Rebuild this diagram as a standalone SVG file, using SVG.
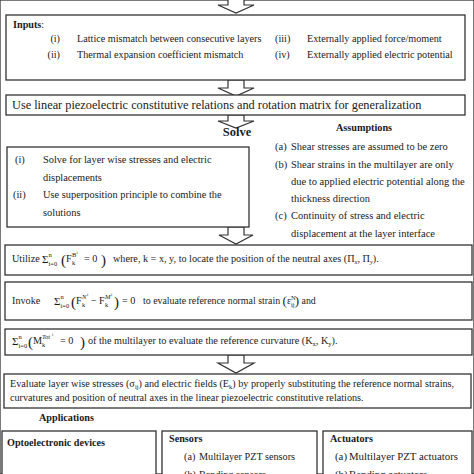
<svg xmlns="http://www.w3.org/2000/svg" width="474" height="474" viewBox="0 0 474 474">
<style>
text{font-family:"Liberation Serif","Times New Roman",serif;font-size:10.2px;fill:#1a1a1a}
.b{font-weight:bold}
.s{font-size:6.5px}
.ss{font-size:4.5px}
.p{font-size:15px;font-weight:lighter}
.sg{font-size:11px}
.i{font-style:italic}
.as{font-size:10.5px}
.sv{font-size:10.4px}
rect{fill:#fff;stroke:#333;stroke-width:1.3}
.arr{fill:#fff;stroke:#333;stroke-width:1.2;stroke-linejoin:miter}
</style>
<rect x="0" y="0" width="474" height="474" fill="#fff" stroke="none"/>
<g id="connectors">
<polygon class="arr" points="228,-3 244,-3 244,5 254,5 236,13 218,5 228,5"/>
<polygon class="arr" points="228,80 244,80 244,88 254,88 236,96 218,88 228,88"/>
<polygon class="arr" points="228,115 244,115 244,121 254,121 236,128 218,121 228,121"/>
<polygon class="arr" points="228,227 244,227 244,235 253,235 236,244 219,235 228,235"/>
<polygon class="arr" points="228,355 244,355 244,363 254,363 236,373 218,363 228,363"/>
</g>
<g id="inputs">
<rect x="6" y="15" width="459" height="65"/>
<text x="13" y="28"><tspan class="b">Inputs</tspan>:</text>
<text x="60" y="42" text-anchor="end">(i)</text>
<text x="77" y="42">Lattice mismatch between consecutive layers</text>
<text x="60" y="58" text-anchor="end">(ii)</text>
<text x="77" y="58">Thermal expansion coefficient mismatch</text>
<text x="275" y="42">(iii)</text>
<text x="307" y="42">Externally applied force/moment</text>
<text x="275" y="58">(iv)</text>
<text x="307" y="58">Externally applied electric potential</text>
</g>
<g id="constitutive">
<rect x="6" y="95" width="459" height="20"/>
<text x="12" y="109" style="font-size:12.3px">Use linear piezoelectric constitutive relations and rotation matrix for generalization</text>
</g>
<g id="solve-label">
<text x="237" y="136" text-anchor="middle" class="b" style="font-size:12.5px">Solve</text>
</g>
<g id="solve">
<rect x="7" y="147" width="242" height="80"/>
<text x="15" y="163" class="sv">(i)</text>
<text x="43" y="163" class="sv">Solve for layer wise stresses and electric</text>
<text x="43" y="181" class="sv">displacements</text>
<text x="13" y="198" class="sv">(ii)</text>
<text x="43" y="198" class="sv">Use superposition principle to combine the</text>
<text x="43" y="216" class="sv">solutions</text>
</g>
<g id="assumptions">
<text x="336" y="131" class="b">Assumptions</text>
<text x="275" y="150" class="as">(a)</text>
<text x="291" y="150" class="as">Shear stresses are assumed to be zero</text>
<text x="275" y="168" class="as">(b)</text>
<text x="291" y="168" class="as">Shear strains in the multilayer are only</text>
<text x="291" y="185" class="as">due to applied electric potential along the</text>
<text x="291" y="202" class="as">thickness direction</text>
<text x="275" y="219" class="as">(c)</text>
<text x="291" y="219" class="as">Continuity of stress and electric</text>
<text x="291" y="237" class="as">displacement at the layer interface</text>
</g>
<g id="neutral-axes">
<rect x="5" y="245" width="467" height="30"/>
<text x="12" y="262">Utilize</text>
<text x="42" y="263" class="sg">Σ</text>
<text x="48.5" y="257" class="s">n</text>
<text x="48.5" y="265.5" class="s">i=0</text>
<text x="61" y="265" class="p">(</text>
<text x="66" y="262">F</text>
<text x="72" y="256.5" class="s">B</text>
<text x="76.5" y="253.5" class="ss">i</text>
<text x="72" y="265" class="s">k</text>
<text x="84" y="262">= 0</text>
<text x="101" y="265" class="p">)</text>
<text x="113" y="262">where, k = x, y, to locate the position of the neutral axes (Π<tspan class="s i" dy="2">x</tspan><tspan dy="-2">, Π</tspan><tspan class="s i" dy="2">y</tspan><tspan dy="-2">).</tspan></text>
</g>
<g id="normal-strain">
<rect x="5" y="282" width="467" height="38"/>
<text x="12" y="304">Invoke</text>
<text x="54" y="305" class="sg">Σ</text>
<text x="60.5" y="299" class="s">n</text>
<text x="60.5" y="307.5" class="s">i=0</text>
<text x="71" y="307" class="p">(</text>
<text x="76" y="304">F</text>
<text x="82" y="298.5" class="s i">N</text>
<text x="87" y="295.5" class="ss">i</text>
<text x="82" y="307" class="s">k</text>
<text x="91" y="304">−</text>
<text x="99" y="304">F</text>
<text x="105" y="298.5" class="s i">M</text>
<text x="111" y="295.5" class="ss">i</text>
<text x="105" y="307" class="s">k</text>
<text x="114" y="307" class="p">)</text>
<text x="122" y="304">= 0</text>
<text x="143" y="304" style="font-size:9.9px">to evaluate reference normal strain <tspan font-size="13" dy="1">(</tspan><tspan dy="-1">ε</tspan><tspan class="s" dy="-4">N</tspan><tspan class="s" dx="-4.7" dy="7">ij</tspan><tspan font-size="13" dy="-2">)</tspan><tspan dy="-1"> and</tspan></text>
</g>
<g id="curvature">
<rect x="5" y="329" width="467" height="26"/>
<text x="12" y="345" class="sg">Σ</text>
<text x="18.5" y="339" class="s">n</text>
<text x="18.5" y="347.5" class="s">i=0</text>
<text x="28" y="347" class="p">(</text>
<text x="33" y="344">M</text>
<text x="42" y="338.5" class="s i">Tot</text>
<text x="52" y="335.5" class="ss">i</text>
<text x="42" y="347" class="s">k</text>
<text x="60" y="344">= 0</text>
<text x="80" y="347" class="p">)</text>
<text x="88" y="344">of the multilayer to evaluate the reference curvature (K<tspan class="s" dy="2">x</tspan><tspan dy="-2">, K</tspan><tspan class="s" dy="2">y</tspan><tspan dy="-2">).</tspan></text>
</g>
<g id="evaluate">
<rect x="4" y="374" width="467" height="34"/>
<text x="10" y="387">Evaluate layer wise stresses (σ<tspan class="s" dy="2">ij</tspan><tspan dy="-2">) and electric fields (E</tspan><tspan class="s" dy="2">k</tspan><tspan dy="-2">) by properly substituting the reference normal strains,</tspan></text>
<text x="10" y="401">curvatures and position of neutral axes in the linear piezoelectric constitutive relations.</text>
</g>
<g id="applications-label">
<text x="39" y="421" class="b">Applications</text>
</g>
<g id="optoelectronic">
<rect x="2" y="431" width="154" height="60"/>
<text x="7" y="446" class="b">Optoelectronic devices</text>
</g>
<g id="sensors">
<rect x="162" y="431" width="155" height="60"/>
<text x="169" y="442" class="b">Sensors</text>
<text x="184" y="460">(a)</text>
<text x="199" y="460">Multilayer PZT sensors</text>
<text x="184" y="478">(b)</text>
<text x="199" y="478">Bending sensors</text>
</g>
<g id="actuators">
<rect x="323" y="431" width="149" height="60"/>
<text x="330" y="442" class="b">Actuators</text>
<text x="335" y="460" style="font-size:10.8px">(a)</text>
<text x="349" y="460" style="font-size:10.8px">Multilayer PZT actuators</text>
<text x="335" y="478" style="font-size:10.8px">(b)</text>
<text x="349" y="478" style="font-size:10.8px">Bending actuators</text>
</g>
</svg>
